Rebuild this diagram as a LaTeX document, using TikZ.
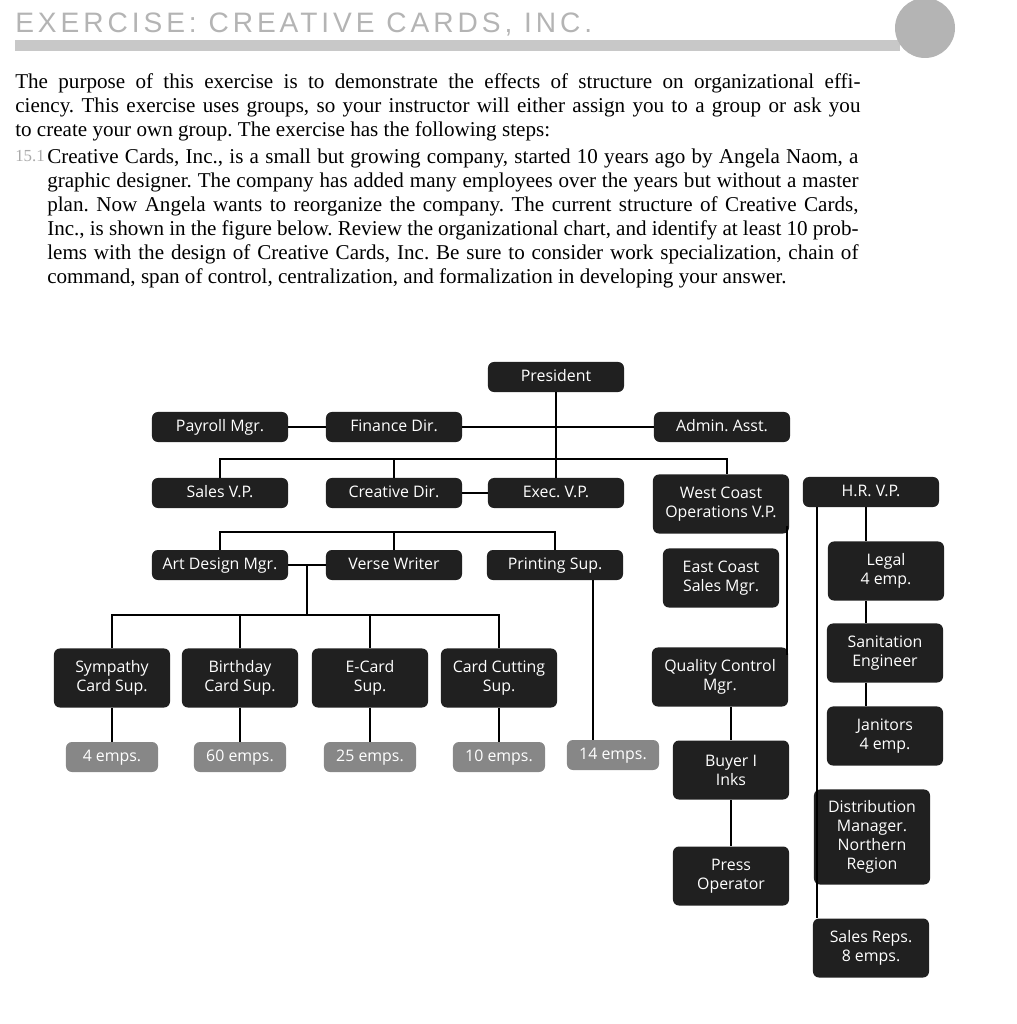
\documentclass[tikz,border=0pt]{standalone}
\usepackage{xcolor}
\usepackage{fontspec}
\usepackage{tikz}
\usetikzlibrary{positioning,calc}
\setmainfont{Liberation Serif}
\newfontfamily\chartfont{Open Sans}
\newfontfamily\headfont[LetterSpace=14]{Liberation Sans}
\definecolor{boxblack}{RGB}{32,32,32}
\definecolor{empgray}{RGB}{135,135,135}
\definecolor{headgray}{RGB}{180,180,180}
\definecolor{bandgray}{RGB}{200,200,200}
\definecolor{numgray}{RGB}{170,170,170}
\frenchspacing

\begin{document}
\begin{tikzpicture}[
  x=0.025cm,y=-0.025cm,
  box/.style={rounded corners=0.15cm,fill=boxblack,text=white,align=center,inner sep=0pt,
    minimum height=0.75cm,font=\chartfont\fontsize{11.3}{13.6}\selectfont},
  wide/.style={minimum width=3.4cm},
  narrow/.style={minimum width=2.9cm},
  tall/.style={minimum height=1.475cm},
  oneline/.style={text height=1.75ex,text depth=0.45ex},
  emps/.style={box,oneline,fill=empgray,minimum width=2.3cm},
  link/.style={line width=1.3pt,black},
]
\useasboundingbox (0,0) rectangle (1017,1024);

% header
\fill[bandgray] (15,40) rectangle (900,51);
\fill[bandgray!90!black] (925,28) circle (30);
\node[anchor=west,inner sep=0,text=headgray,font=\headfont\fontsize{20}{20}\selectfont] (title) at (15,24) {EXERCISE: CREATIVE CARDS, INC.};

% text
\node[anchor=north west,inner sep=0,text width=21.125cm,align=justify,font=\fontsize{15}{17.07}\selectfont] (intro) at (15,73)
  {The purpose of this exercise is to demonstrate the effects of structure on organizational effi-\linebreak
   ciency. This exercise uses groups, so your instructor will either assign you to a group or ask you\linebreak
   to create your own group. The exercise has the following steps:};
\node[anchor=north west,inner sep=0,text=numgray,font=\fontsize{12}{17.07}\selectfont] (stepno) at (15,150) {15.1};
\node[anchor=north west,inner sep=0,text width=20.275cm,align=justify,font=\fontsize{15}{17.07}\selectfont] (step) at (47,149)
  {Creative Cards, Inc., is a small but growing company, started 10 years ago by Angela Naom, a\linebreak
   graphic designer. The company has added many employees over the years but without a master\linebreak
   plan. Now Angela wants to reorganize the company. The current structure of Creative Cards,\linebreak
   Inc., is shown in the figure below. Review the organizational chart, and identify at least 10 prob-\linebreak
   lems with the design of Creative Cards, Inc. Be sure to consider work specialization, chain of\linebreak
   command, span of control, centralization, and formalization in developing your answer.};

% chart
\node[box,wide,oneline] (pres) at (556,377) {President};
\node[box,wide,oneline] (payroll) at (220,427) {Payroll Mgr.};
\node[box,wide,oneline] (finance) at (394,427) {Finance Dir.};
\node[box,wide,oneline] (admin) at (722,427) {Admin. Asst.};
\node[box,wide,oneline] (salesvp) at (220,493) {Sales V.P.};
\node[box,wide,oneline] (creative) at (394,493) {Creative Dir.};
\node[box,wide,oneline] (exec) at (556,493) {Exec. V.P.};
\node[box,wide,tall] (westvp) at (721,504) {West Coast\\Operations V.P.};
\node[box,wide,oneline] (hrvp) at (871,492) {H.R. V.P.};
\node[box,wide,oneline] (artmgr) at (220,565) {Art Design Mgr.};
\node[box,wide,oneline] (verse) at (394,565) {Verse Writer};
\node[box,wide,oneline] (printsup) at (555,565) {Printing Sup.};
\node[box,narrow,tall] (eastmgr) at (721,578) {East Coast\\Sales Mgr.};
\node[box,narrow,tall] (legal) at (886,571) {Legal\\4 emp.};
\node[box,narrow,tall] (sympathy) at (112,678) {Sympathy\\Card Sup.};
\node[box,narrow,tall] (birthday) at (240,678) {Birthday\\Card Sup.};
\node[box,narrow,tall] (ecard) at (370,678) {E-Card\\Sup.};
\node[box,narrow,tall] (cutting) at (499,678) {Card Cutting\\Sup.};
\node[box,wide,tall] (quality) at (720,677) {Quality Control\\Mgr.};
\node[box,narrow,tall] (sanitation) at (885,653) {Sanitation\\Engineer};
\node[box,narrow,tall] (janitors) at (885,736) {Janitors\\4 emp.};
\node[box,narrow,tall] (buyer) at (731,770) {Buyer I\\Inks};
\node[box,narrow,tall] (press) at (731,876) {Press\\Operator};
\node[box,narrow,minimum height=2.375cm] (distrib) at (872,837) {Distribution\\Manager.\\Northern\\Region};
\node[box,narrow,tall] (salesreps) at (871,948) {Sales Reps.\\8 emps.};
\node[emps] (emps4) at (112,757) {4 emps.};
\node[emps] (emps60) at (240,757) {60 emps.};
\node[emps] (emps25) at (370,757) {25 emps.};
\node[emps] (emps10) at (499,757) {10 emps.};
\node[emps] (emps14) at (613,755) {14 emps.};

\coordinate (row2) at (0,459);
\coordinate (row3) at (0,532);
\coordinate (row4) at (0,615);
\coordinate (artjoin) at ($(artmgr.east)!0.5!(verse.west)$);
\coordinate (hrline) at ([xshift=-0.125cm]hrvp.south);
\coordinate (hrlong) at ([xshift=-1.35cm]hrvp.south);

\draw[link] (payroll) -- (finance);
\draw[link] (finance) -- (admin);
\draw[link] (pres) -- (exec);
\draw[link] (salesvp.north) -- (salesvp.north |- row2) -| ([xshift=0.15cm]westvp.north);
\draw[link] (creative.north) -- (creative.north |- row2);
\draw[link] (creative) -- (exec);
\draw[link] (artmgr.north) -- (artmgr.north |- row3) -| (printsup.north);
\draw[link] (verse.north) -- (verse.north |- row3);
\draw[link] (artmgr) -- (verse);
\draw[link] (artjoin) -- (artjoin |- row4);
\draw[link] (sympathy.north) -- (sympathy.north |- row4) -| (cutting.north);
\draw[link] (birthday.north) -- (birthday.north |- row4);
\draw[link] (ecard.north) -- (ecard.north |- row4);
\draw[link] (sympathy) -- (emps4);
\draw[link] (birthday) -- (emps60);
\draw[link] (ecard) -- (emps25);
\draw[link] (cutting) -- (emps10);
\draw[link] ([xshift=0.95cm]printsup.south) -- ([xshift=0.95cm]printsup.south |- emps14.north);
\draw[link] ([xshift=-0.05cm,yshift=0.2cm]westvp.south east) -- ([xshift=-0.05cm,yshift=-0.2cm]westvp.south east |- quality.north);
\draw[link] (buyer.north |- quality.south) -- (buyer.north);
\draw[link] (buyer) -- (press);
\draw[link] (hrline) -- (hrline |- legal.north);
\draw[link] (hrline |- legal.south) -- (hrline |- sanitation.north);
\draw[link] (hrline |- sanitation.south) -- (hrline |- janitors.north);
\draw[link] (hrlong) -- (hrlong |- salesreps.north);
\end{tikzpicture}
\end{document}
